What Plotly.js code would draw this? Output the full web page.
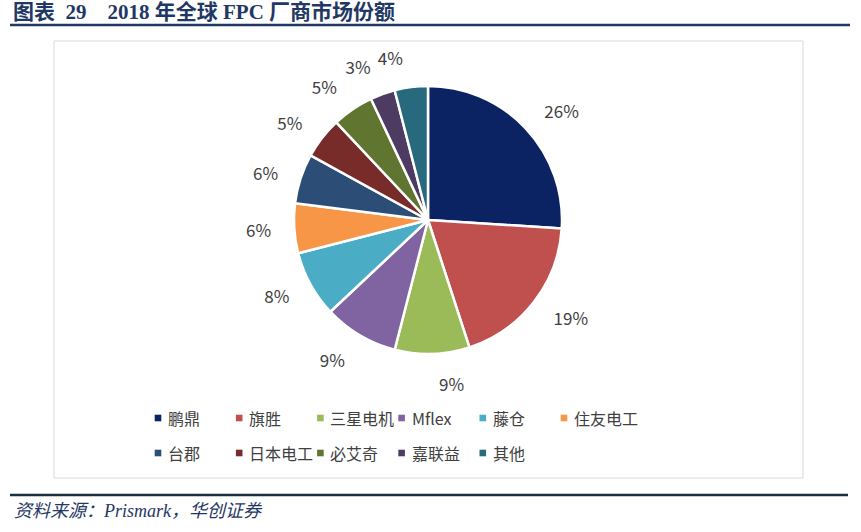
<!DOCTYPE html>
<html>
<head>
<meta charset="utf-8">
<script src="https://cdn.plot.ly/plotly-3.0.1.min.js"></script>
<style>html,body{margin:0;padding:0;background:#fff;}#chart{width:861px;height:532px;}</style>
</head>
<body>
<div id="chart"></div>
<script>
// ---- data ----
const companies = ['鹏鼎','旗胜','三星电机','Mflex','藤仓','住友电工','台郡','日本电工','必艾奇','嘉联益','其他'];
const shares = [26, 19, 9, 9, 8, 6, 6, 5, 5, 3, 4];
const sliceColors = ['#0b2362','#c0504d','#9bbb59','#8064a2','#4bacc6','#f79646',
                     '#2c4d75','#772c2a','#5f7530','#4d3b62','#276a7d'];
const titleText = '图表&nbsp;&nbsp;29&nbsp;&nbsp;&nbsp;&nbsp;2018 年全球 FPC 厂商市场份额';
const sourceText = '资料来源：Prismark，华创证券';

// ---- geometry helpers (pixel -> paper) ----
const W = 861, H = 532;
const px = x => x / W;
const py = y => 1 - y / H;

const cx = 428, cy = 220, rad = 134, labelRad = 151;
const dom = r => ({ x: [px(cx - r), px(cx + r)], y: [py(cy + r), py(cy - r)] });

const labelFont = { family: '"Noto Sans CJK SC", "Noto Sans", sans-serif', size: 17, color: '#404040' };

// Invisible, slightly larger pies that only carry the outside percentage labels.
// The labels are split over several such pies so that the crowded small slices
// at the top are not pushed apart with leader lines.
const labelSets = [
  companies.map((_, i) => i < 9),
  companies.map((_, i) => i === 9),
  companies.map((_, i) => i === 10)
];
const labelPies = labelSets.map(show => ({
  type: 'pie',
  labels: companies,
  values: shares,
  sort: false,
  direction: 'clockwise',
  rotation: 0,
  marker: { colors: companies.map(() => 'rgba(0,0,0,0)'), line: { width: 0 } },
  texttemplate: '%{value}%',
  textposition: show.map(s => s ? 'outside' : 'none'),
  outsidetextfont: labelFont,
  hoverinfo: 'skip',
  showlegend: false,
  domain: dom(labelRad)
}));

// the visible pie
const mainPie = {
  type: 'pie',
  labels: companies,
  values: shares,
  sort: false,
  direction: 'clockwise',
  rotation: 0,
  marker: { colors: sliceColors, line: { color: '#ffffff', width: 2.5 } },
  textinfo: 'none',
  hovertemplate: '%{label}: %{value}%<extra></extra>',
  showlegend: false,
  domain: dom(rad)
};

// ---- legend (2 rows x 6 columns, built from the data arrays) ----
const legShapes = [], legAnns = [];
companies.forEach((name, i) => {
  const col = i % 6, row = Math.floor(i / 6);
  const mx = 158 + col * 81.2, my = 418 + row * 35, s = 3.3;
  legShapes.push({ type: 'rect', xref: 'paper', yref: 'paper',
    x0: px(mx - s), x1: px(mx + s), y0: py(my + s), y1: py(my - s),
    fillcolor: sliceColors[i], line: { width: 0 } });
  legAnns.push({ xref: 'paper', yref: 'paper', x: px(mx + 8), y: py(my), xanchor: 'left', yanchor: 'middle',
    showarrow: false, text: name,
    font: { family: '"Noto Sans CJK SC", sans-serif', size: 16, color: '#404040' } });
});

const layout = {
  width: W, height: H,
  margin: { l: 0, r: 0, t: 0, b: 0 },
  paper_bgcolor: '#ffffff',
  showlegend: false,
  shapes: [
    { type: 'rect', xref: 'paper', yref: 'paper', x0: px(54), x1: px(803), y0: py(478), y1: py(41),
      line: { color: '#d9d9d9', width: 1 }, fillcolor: 'rgba(0,0,0,0)', layer: 'below' },
    { type: 'line', xref: 'paper', yref: 'paper', x0: px(10), x1: px(850), y0: py(25), y1: py(25),
      line: { color: '#1f3864', width: 2.3 } },
    { type: 'line', xref: 'paper', yref: 'paper', x0: px(10), x1: px(848), y0: py(495), y1: py(495),
      line: { color: '#1b2f3f', width: 2.3 } }
  ].concat(legShapes),
  annotations: [
    { xref: 'paper', yref: 'paper', x: px(11), y: py(12), xanchor: 'left', yanchor: 'middle',
      showarrow: false, text: '<b>' + titleText + '</b>',
      font: { family: '"Liberation Serif", "Noto Sans CJK SC", serif', size: 21, color: '#1f3864' } },
    { xref: 'paper', yref: 'paper', x: px(12), y: py(511), xanchor: 'left', yanchor: 'middle',
      showarrow: false, text: '<i>' + sourceText + '</i>',
      font: { family: '"Liberation Serif", "Noto Sans CJK SC", serif', size: 18, color: '#1f3864' } }
  ].concat(legAnns)
};

Plotly.newPlot('chart', labelPies.concat([mainPie]), layout, { displayModeBar: false });
</script>
</body>
</html>
